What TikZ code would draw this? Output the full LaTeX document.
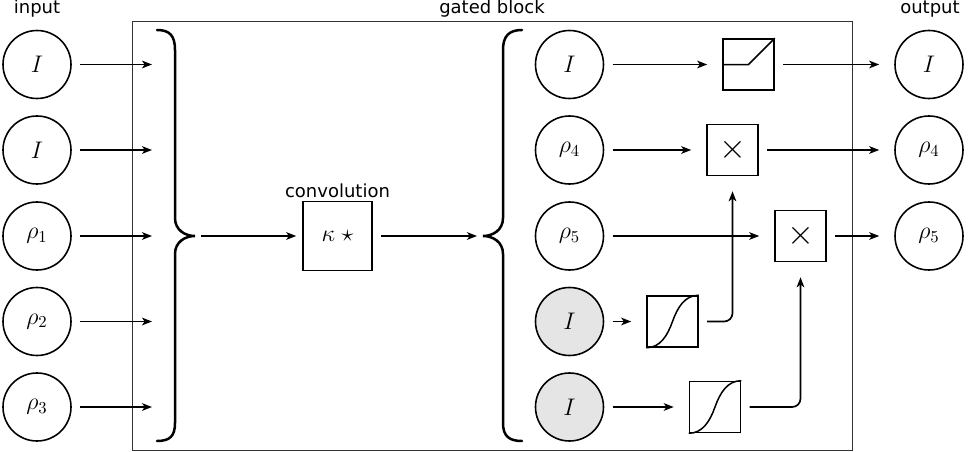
\documentclass[tikz,border=0pt]{standalone}
\usepackage{fontspec}
\newfontfamily\labelfont{DejaVu Sans}
\usetikzlibrary{arrows.meta}
\begin{document}
\begin{tikzpicture}[x=0.6pt,y=-0.6pt,>={Stealth[length=6pt,width=4.6pt,inset=1.6pt]}]
  \tikzstyle{feature}=[circle,draw=black,line width=0.95pt,minimum size=40.8pt,inner sep=0pt,font=\Large]
  \tikzstyle{gate}=[feature,fill=black!10]
  \tikzstyle{op}=[rectangle,draw=black,line width=0.95pt,minimum size=30.6pt,inner sep=0pt]
  \tikzstyle{conn}=[draw,line width=1pt,->,shorten <=5pt,shorten >=9pt]
  \tikzstyle{brace}=[draw,line width=1.5pt,line cap=round]
  \tikzstyle{title}=[font=\labelfont\fontsize{10.8}{13}\selectfont,anchor=base]
  \useasboundingbox (0,0) rectangle (968,452);
  % block frame
  \draw[line width=0.6pt,draw=black!80] (132,21) rectangle (852,450);
  \node[title] (tin) at (37,13.5) {input};
  \node[title] (tblock) at (492,13.5) {gated block};
  \node[title] (tout) at (930,13.5) {output};
  \node[title] (tconv) at (337.5,197) {convolution};
  % input fields
  \node[feature] (in1) at (37,64.5) {$I$};
  \node[feature] (in2) at (37,150) {$I$};
  \node[feature] (in3) at (37,236) {$\rho_1$};
  \node[feature] (in4) at (37,321.5) {$\rho_2$};
  \node[feature] (in5) at (37,407) {$\rho_3$};
  \node[op,minimum size=41.4pt,font=\Large] (conv) at (337.5,236) {$\kappa\;\star$};
  % gated fields
  \node[feature] (g1) at (569.5,64.5) {$I$};
  \node[feature] (g2) at (569.5,150) {$\rho_4$};
  \node[feature] (g3) at (569.5,236) {$\rho_5$};
  \node[gate] (g4) at (569.5,321.5) {$I$};
  \node[gate] (g5) at (569.5,407) {$I$};
  \node[op] (relu) at (748.5,64.5) {};
  \node[op,font=\huge] (mul1) at (732.5,150) {$\times$};
  \node[op,font=\huge] (mul2) at (800.5,236) {$\times$};
  \node[op] (sig1) at (672.5,321.5) {};
  \node[op] (sig2) at (715,407) {};
  % output fields
  \node[feature] (out1) at (929,64.5) {$I$};
  \node[feature] (out2) at (929,150) {$\rho_4$};
  \node[feature] (out3) at (929,236) {$\rho_5$};
  % nonlinearities
  \draw[line width=0.9pt] (relu.west) -- (relu.center) -- (relu.north east);
  \draw[line width=0.9pt] (sig1.south west) .. controls +(14,0) and +(-5,14) .. (sig1.center) .. controls +(5,-14) and +(-14,0) .. (sig1.north east);
  \draw[line width=0.9pt] (sig2.south west) .. controls +(14,0) and +(-5,14) .. (sig2.center) .. controls +(5,-14) and +(-14,0) .. (sig2.north east);
  % braces
  \path[brace] (157,30) .. controls (170,30) and (175,36) .. (175,50) -- (175,218) .. controls (175,230) and (185,236) .. (195,236) .. controls (185,236) and (175,242) .. (175,254) -- (175,423) .. controls (175,436) and (170,441) .. (157,441);
  \path[brace] (522,30) .. controls (509,30) and (503,36) .. (503,50) -- (503,218) .. controls (503,230) and (493,236) .. (483,236) .. controls (493,236) and (503,242) .. (503,254) -- (503,423) .. controls (503,436) and (509,441) .. (522,441);
  \coordinate (lin) at (152,236);
  \coordinate (ltip) at (201,236);
  \coordinate (rtip) at (477,236);
  % connectors
  \foreach \i in {1,...,5}
    \path[conn,shorten >=0pt] (in\i) edge (in\i -| lin);
  \draw[conn,shorten <=0pt,shorten >=3.6pt] (ltip) -- (conv);
  \path[conn,shorten >=0pt] (conv) edge (rtip);
  \path[conn] (g1) edge (relu) (relu) edge (out1);
  \path[conn] (g2) edge (mul1) (mul1) edge (out2);
  \path[conn] (g3) edge (mul2) (mul2) edge (out3);
  \path[conn] (g4) edge (sig1) (g5) edge (sig2);
  \draw[conn,rounded corners=5pt] (sig1) -| (mul1);
  \draw[conn,rounded corners=5pt] (sig2) -| (mul2);
\end{tikzpicture}
\end{document}
